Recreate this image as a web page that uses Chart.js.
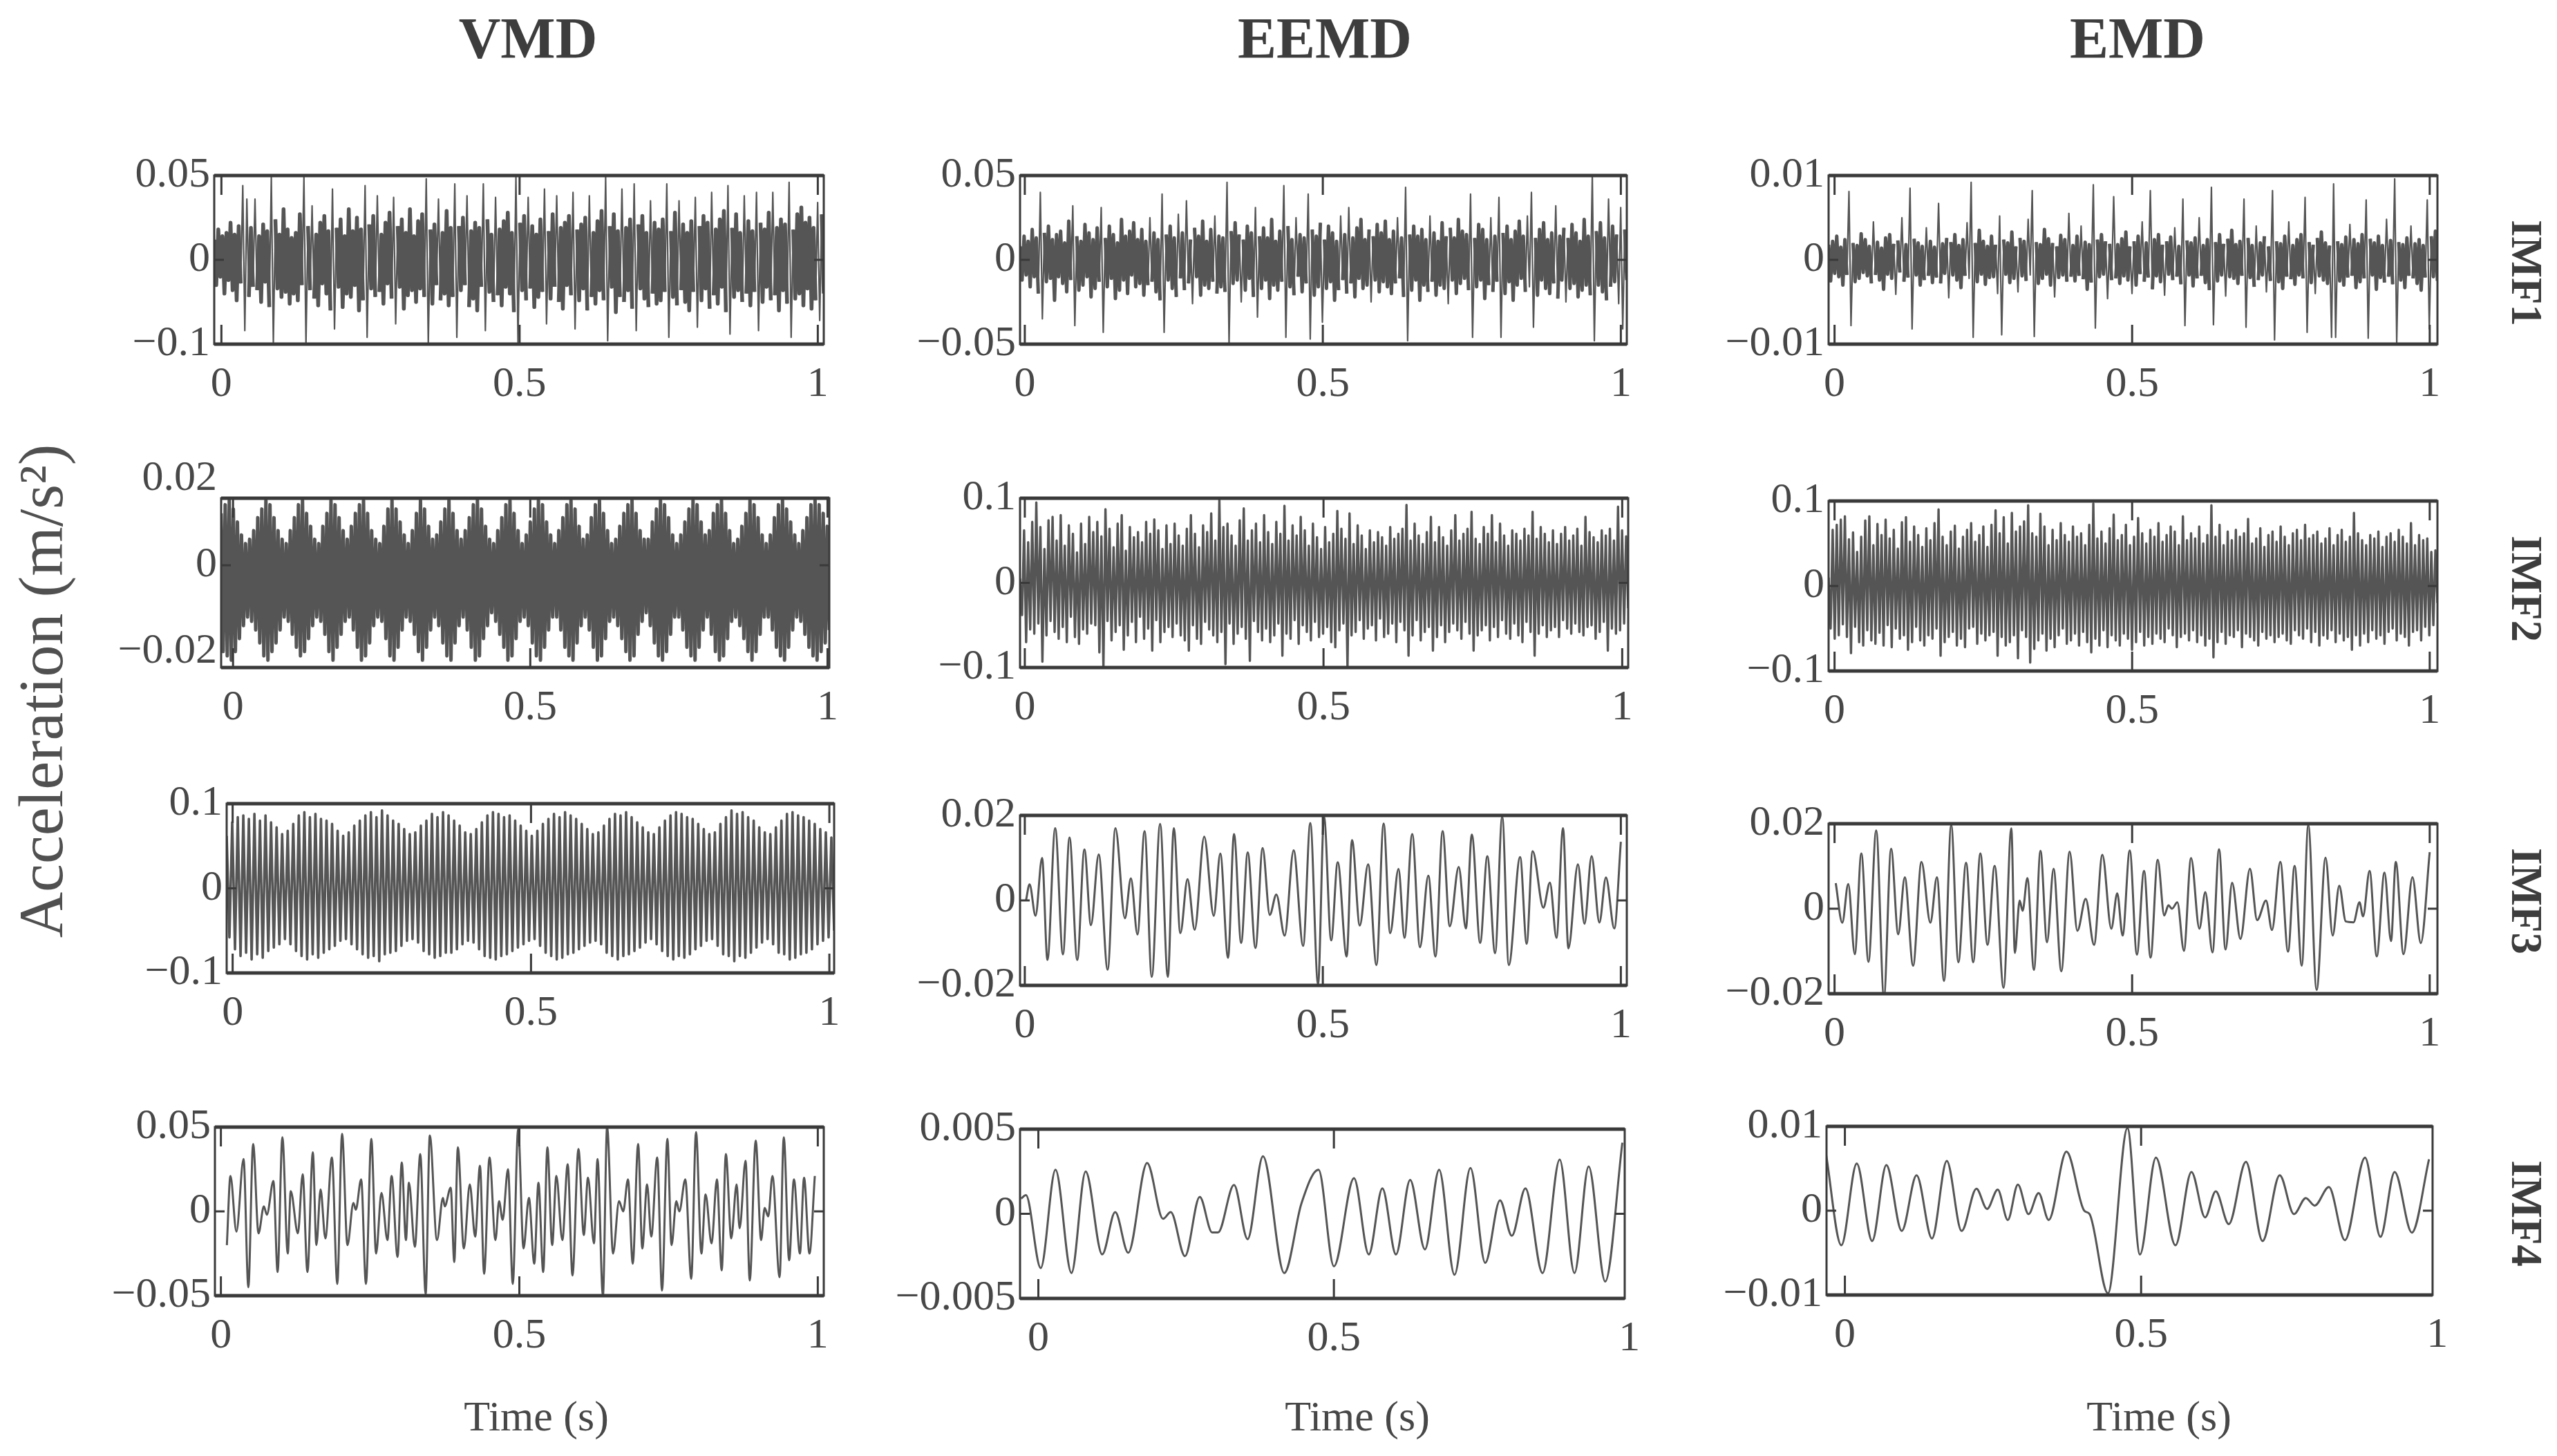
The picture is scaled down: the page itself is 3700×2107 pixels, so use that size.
<!DOCTYPE html>
<html>
<head>
<meta charset="utf-8">
<script src="https://cdn.jsdelivr.net/npm/chart.js@4.4.1/dist/chart.umd.min.js"></script>
<style>
    body { margin: 0; width: 3700px; height: 2107px; background: #fff; position: relative; overflow: hidden;
           font-family: "Liberation Serif", "Times New Roman", serif; color: #3d3d3d; }
    canvas { position: absolute; }
    .txt { position: absolute; white-space: nowrap; transform: translate(-50%, -50%); }
    .title { font-weight: bold; font-size: 84px; }
    .imf { font-weight: bold; font-size: 63px; transform: translate(-50%, -50%) rotate(90deg); }
    .ylab { font-size: 92px; color: #505050; transform: translate(-50%, -50%) rotate(-90deg); }
    .xlab { font-size: 62px; color: #474747; }
</style>
</head>
<body>

<div class="txt title" style="left:764px; top:55px">VMD</div>
<div class="txt title" style="left:1917px; top:55px">EEMD</div>
<div class="txt title" style="left:3093px; top:55px">EMD</div>

<div class="txt imf" style="left:3655px; top:395px">IMF1</div>
<div class="txt imf" style="left:3655px; top:852px">IMF2</div>
<div class="txt imf" style="left:3655px; top:1304px">IMF3</div>
<div class="txt imf" style="left:3655px; top:1756px">IMF4</div>

<div class="txt ylab" style="left:59px; top:1000px">Acceleration (m/s²)</div>

<div class="txt xlab" style="left:776px; top:2049px">Time (s)</div>
<div class="txt xlab" style="left:1964px; top:2049px">Time (s)</div>
<div class="txt xlab" style="left:3124px; top:2049px">Time (s)</div>

<script>
// x tick labels shared by every panel
const xTickValues = [0, 0.5, 1];
const xTickLabels = ['0', '0.5', '1'];

// ---- dense IMFs: evenly sampled values ----

// VMD IMF1, units 1e-3 m/s^2
const vmdImf1 = [
    12,-15,18,-10,14,-20,16,-12,22,-18,15,-24,20,-14,44,-42,36,-22,19,-16,
    36,-18,14,-25,21,-13,17,-28,49,-49,24,-17,15,-22,30,-19,18,-26,13,-20,
    16,-24,27,-15,49,-50,20,-18,32,-23,15,-27,22,-14,26,-20,17,-30,42,-41,
    19,-16,24,-28,14,-20,30,-22,17,-15,25,-30,18,-24,44,-46,21,-17,26,-22,
    38,-19,15,-26,22,-14,28,-23,37,-38,20,-16,24,-29,16,-21,30,-18,14,-25,
    23,-17,27,-22,48,-50,18,-26,21,-15,36,-24,16,-20,29,-27,19,-22,45,-46,
    20,-18,25,-15,38,-28,17,-23,22,-30,19,-16,45,-42,24,-19,15,-25,37,-21,
    18,-27,23,-16,28,-20,16,-31,49,-49,22,-18,26,-24,37,-17,20,-28,15,-22,
    24,-19,42,-38,17,-23,27,-16,38,-25,19,-29,22,-15,26,-21,40,-41,18,-24,
    21,-17,25,-30,38,-22,16,-26,23,-18,29,-24,49,-48,20,-16,27,-31,17,-22,
    42,-25,19,-18,24,-29,45,-42,21,-17,26,-23,16,-28,35,-20,22,-26,18,-24,
    24,-19,45,-46,17,-22,28,-27,35,-18,21,-25,16,-30,23,-19,37,-40,20,-24,
    26,-17,22,-29,40,-21,18,-26,24,-16,29,-31,44,-44,19,-22,27,-18,16,-25,
    38,-20,23,-27,17,-19,40,-42,22,-25,18,-16,28,-24,40,-21,19,-30,24,-18,
    21,-26,46,-46,18,-23,27,-20,31,-27,22,-17,25,-29,19,-24,34,-36,27,-20
];

// VMD IMF2, units 1e-3 m/s^2
const vmdImf2 = [
    12,-20,14,-21,15,-22,13,-20,10,-17,7,-14,5,-12,6,-13,8,-15,11,-18,
    13,-21,15,-22,14,-20,11,-18,8,-15,6,-12,5,-13,8,-16,11,-19,14,-21,
    15,-20,12,-17,9,-14,6,-12,5,-13,9,-16,12,-20,15,-22,14,-19,11,-16,
    8,-13,6,-12,9,-15,12,-19,14,-22,15,-21,12,-18,8,-14,6,-12,5,-13,
    9,-17,13,-21,15,-22,13,-19,10,-15,7,-12,5,-13,8,-16,12,-20,15,-22,
    13,-19,9,-15,6,-12,7,-14,10,-18,13,-21,15,-22,12,-18,8,-14,6,-12,
    8,-15,11,-19,14,-22,15,-21,13,-17,9,-14,6,-11,5,-13,8,-16,11,-19,
    14,-22,15,-21,12,-17,8,-13,5,-12,7,-14,10,-18,13,-21,15,-22,14,-19,
    10,-15,7,-12,5,-12,8,-15,11,-19,14,-21,15,-22,13,-18,9,-14,6,-12,
    7,-15,11,-19,14,-22,15,-21,12,-17,8,-13,5,-12,6,-14,9,-17,12,-20,
    14,-22,15,-21,12,-16,8,-13,6,-11,6,-14,10,-18,13,-21,15,-22,14,-20,
    11,-16,7,-12,5,-12,7,-15,10,-19,13,-21,15,-22,14,-19,10,-15,7,-12,
    8,-16,12,-20,14,-22,15,-21,12,-17,8,-13,5,-12,6,-14,9,-17,12,-20,
    15,-22,14,-20,11,-16,7,-12,5,-12,7,-15,11,-19,14,-21,15,-22,13,-19,
    10,-15,7,-12,5,-13,8,-16,11,-19,14,-21,15,-22,14,-20,12,-18,9,-15
];

// VMD IMF3, units 1e-3 m/s^2
const vmdImf3 = [
    62,-58,78,-72,84,-80,86,-76,82,-84,88,-78,80,-82,86,-74,78,-70,72,-66,
    64,-60,68,-66,76,-74,86,-80,90,-84,84,-78,88,-82,82,-76,80,-72,76,-68,
    68,-62,62,-60,66,-66,74,-72,80,-78,86,-82,90,-80,84,-86,92,-78,86,-76,
    80,-74,76,-68,70,-62,64,-60,66,-64,74,-74,80,-78,88,-82,84,-80,90,-76,
    86,-76,80,-72,74,-66,66,-62,64,-64,70,-72,78,-80,86,-82,90,-84,88,-80,
    84,-78,86,-74,80,-70,74,-66,68,-62,62,-60,68,-68,76,-76,82,-80,88,-84,
    84,-82,90,-78,86,-76,82,-72,76,-68,70,-64,64,-62,66,-66,74,-76,82,-80,
    88,-84,86,-80,90,-78,84,-74,78,-70,72,-64,66,-60,64,-66,72,-74,80,-80,
    86,-84,90,-80,88,-82,84,-78,82,-72,76,-68,70,-62,64,-60,66,-68,76,-78,
    84,-80,92,-86,88,-80,90,-82,84,-76,80,-70,72,-64,66,-60,64,-66,72,-76,
    80,-78,88,-84,90,-82,86,-78,84,-76,80,-72,76,-66,70,-62,66,-58,60,-50
];

// EEMD IMF1, units 1e-3 m/s^2
const eemdImf1 = [
    8,-12,14,-9,11,-16,18,-10,13,-20,40,-35,16,-13,20,-11,12,-24,15,-10,
    17,-14,10,-19,23,-12,32,-39,14,-18,11,-15,21,-10,16,-22,12,-17,19,-13,
    31,-43,13,-16,20,-11,15,-23,10,-18,24,-12,14,-20,17,-9,22,-16,12,-14,
    18,-21,11,-15,25,-13,16,-19,12,-24,39,-43,15,-12,20,-17,13,-22,27,-11,
    16,-18,35,-14,12,-26,19,-10,14,-21,23,-15,11,-17,18,-13,26,-20,14,-16,
    13,-19,46,-50,17,-14,22,-12,15,-25,12,-18,20,-11,16,-22,31,-34,14,-17,
    19,-12,13,-23,24,-15,11,-18,17,-13,44,-46,20,-16,12,-21,25,-10,15,-19,
    13,-14,39,-47,18,-21,14,-16,22,-37,12,-17,20,-13,16,-24,11,-18,26,-12,
    15,-20,31,-14,13,-22,19,-11,24,-17,12,-15,18,-25,14,-12,21,-19,16,-13,
    23,-16,12,-20,17,-14,25,-11,13,-22,43,-48,15,-18,20,-12,14,-24,18,-15,
    12,-19,26,-13,16,-21,11,-15,22,-17,14,-26,19,-12,13,-20,24,-14,17,-11,
    15,-18,39,-46,13,-16,21,-12,18,-23,12,-15,25,-19,14,-13,37,-46,16,-20,
    20,-13,12,-24,17,-15,23,-11,14,-19,26,-16,40,-40,13,-21,18,-12,22,-17,
    12,-20,16,-14,32,-23,14,-12,19,-25,13,-17,21,-14,16,-22,11,-18,24,-15,
    14,-21,50,-48,17,-15,22,-19,13,-24,36,-16,20,-13,15,-26,31,-41,18,-12
];

// EEMD IMF2, units 1e-3 m/s^2
const eemdImf2 = [
    5,-38,62,-70,48,-55,72,-60,95,-48,66,-93,40,-62,74,-45,78,-58,50,-66,
    80,-52,44,-70,68,-40,58,-64,36,-72,70,-55,46,-60,78,-48,60,-50,72,-82,
    55,-100,87,-45,64,-68,42,-58,70,-50,80,-79,38,-62,66,-46,54,-70,60,-40,
    48,-66,72,-54,58,-80,75,-44,62,-70,40,-58,68,-52,46,-64,70,-48,56,-62,
    44,-68,64,-80,80,-50,58,-66,42,-72,68,-46,60,-55,82,-62,50,-70,98,-58,
    66,-96,70,-48,56,-72,44,-60,74,-52,88,-66,50,-92,62,-45,70,-58,48,-68,
    80,-54,60,-70,46,-62,72,-48,58,-86,91,-60,50,-66,68,-44,56,-72,78,-50,
    62,-58,44,-68,70,-46,54,-64,40,-60,66,-52,48,-70,58,-76,85,-56,64,-48,
    52,-100,82,-62,46,-58,68,-44,56,-66,40,-54,62,-50,48,-68,60,-42,54,-64,
    44,-60,66,-48,52,-70,58,-46,64,-56,92,-86,50,-62,70,-44,56,-68,46,-58,
    60,-52,78,-80,48,-64,66,-50,54,-70,44,-58,62,-48,80,-56,50,-66,58,-46,
    64,-60,84,-80,52,-62,46,-56,66,-50,58,-68,80,-52,48,-64,70,-44,56,-60,
    44,-66,62,-48,58,-62,50,-70,64,-46,56,-58,84,-86,52,-60,66,-50,58,-64,
    48,-56,62,-52,46,-64,58,-44,66,-54,50,-60,56,-48,64,-58,44,-62,78,-52,
    60,-50,54,-66,48,-58,62,-46,56,-80,64,-54,50,-60,90,-56,62,-48,55,-30
];

// EMD IMF1, units 1e-4 m/s^2
const emdImf1 = [
    18,-25,22,-16,28,-20,15,-30,24,-18,81,-78,20,-26,17,-22,31,-15,24,-19,
    16,-28,45,-18,21,-24,14,-35,26,-17,30,-22,19,-41,23,-15,50,-26,18,-21,
    85,-82,25,-18,20,-30,16,-24,38,-19,22,-27,15,-21,67,-28,19,-16,26,-45,
    21,-18,30,-24,17,-33,24,-19,44,-22,92,-92,20,-26,35,-17,22,-29,16,-21,
    28,-20,18,-40,52,-89,24,-17,20,-27,33,-22,16,-38,26,-19,22,-25,48,-18,
    82,-91,21,-28,18,-22,36,-17,25,-30,20,-44,16,-21,29,-18,24,-26,55,-20,
    17,-25,28,-19,40,-23,21,-35,18,-27,89,-81,24,-20,30,-17,22,-46,19,-24,
    75,-22,18,-28,25,-19,33,-24,16,-40,22,-30,28,-17,45,-26,20,-21,82,-35,
    24,-19,30,-26,18,-42,22,-17,27,-24,38,-20,16,-29,72,-78,23,-18,20,-31,
    26,-22,50,-19,17,-27,24,-36,86,-77,21,-25,30,-18,19,-43,25,-20,35,-22,
    18,-28,22,-19,72,-80,26,-21,17,-32,40,-24,20,-18,28,-38,16,-25,82,-95,
    22,-26,19,-34,28,-20,45,-23,17,-29,24,-18,30,-22,74,-86,21,-27,18,-40,
    26,-19,33,-24,20,-28,17,-92,90,-92,22,-25,18,-30,27,-21,42,-19,24,-33,
    19,-26,30,-22,71,-93,25,-18,20,-35,28,-21,17,-27,48,-20,23,-29,96,-98,
    21,-24,18,-33,26,-19,40,-22,19,-28,24,-36,17,-21,71,-82,28,-20,34,-25
];

// EMD IMF2, units 1e-3 m/s^2
const emdImf2 = [
    10,-50,66,-62,72,-58,78,-45,82,-60,55,-79,63,-48,40,-66,58,-70,77,-52,
    82,-64,48,-68,73,-55,60,-70,78,-46,56,-72,66,-50,44,-62,75,-58,81,-75,
    52,-66,70,-48,60,-64,46,-70,68,-58,54,-62,74,-50,90,-82,58,-66,48,-60,
    64,-54,71,-70,44,-62,58,-72,66,-50,74,-48,52,-68,60,-56,70,-64,46,-58,
    72,-54,89,-82,62,-60,81,-70,50,-66,86,-58,64,-85,70,-52,76,-60,95,-90,
    62,-74,58,-64,85,-56,70,-76,48,-62,66,-72,54,-58,74,-50,60,-68,52,-64,
    70,-56,58,-70,62,-54,48,-66,72,-78,97,-62,56,-70,64,-52,50,-72,68,-58,
    84,-64,54,-70,60,-56,72,-62,48,-75,58,-66,80,-54,62,-70,50,-60,66,-68,
    58,-56,74,-62,52,-66,60,-50,70,-58,64,-72,48,-60,82,-56,54,-64,62,-52,
    56,-66,70,-58,50,-70,60,-62,95,-84,58,-66,72,-54,48,-68,64,-58,54,-60,
    66,-52,58,-72,62,-56,79,-60,50,-64,56,-70,68,-54,46,-62,60,-58,64,-66,
    52,-60,70,-56,58,-64,48,-68,62,-52,66,-58,54,-62,72,-50,56,-66,60,-54,
    64,-70,50,-58,56,-62,68,-52,48,-66,60,-56,66,-64,52,-60,58,-75,86,-58,
    62,-70,54,-56,48,-66,60,-52,56,-62,64,-58,46,-68,58,-54,62,-50,52,-64,
    66,-56,58,-60,50,-70,74,-54,48,-52,60,-64,54,-48,56,-58,40,-46,42,-20
];

// ---- smooth IMFs: [time in ms, value] at the peaks and troughs ----

// VMD IMF4, units 1e-3 m/s^2
const vmdImf4 = [
    [10,-20],[16,21],[26,-12],[38,31],[46,-45],[54,40],[63,-13],[72,3],[77,-2],[88,18],
    [95,-36],[103,44],[112,-25],[117,12],[129,-13],[137,22],[145,-36],[154,35],[160,-20],[167,13],
    [175,-16],[186,32],[195,-43],[203,46],[212,-20],[222,5],[226,1],[235,19],[243,-43],[252,43],
    [260,-25],[269,11],[279,-17],[286,21],[296,-27],[303,29],[310,-17],[315,17],[325,-21],[334,34],
    [343,-49],[350,45],[362,-17],[372,8],[375,3],[385,14],[391,-30],[397,38],[407,-22],[417,16],
    [426,-15],[434,27],[441,-37],[450,32],[460,-17],[466,6],[472,-5],[481,25],[489,-43],[498,49],
    [507,-22],[516,8],[525,-31],[532,17],[540,-36],[547,38],[555,-20],[562,21],[572,-17],[581,28],
    [589,-38],[599,37],[608,-14],[615,20],[625,-19],[631,31],[640,-50],[647,50],[657,-25],[667,6],
    [674,0],[682,19],[690,-31],[699,40],[706,-22],[714,16],[721,-15],[731,32],[739,-47],[748,43],
    [755,-20],[763,6],[768,0],[778,19],[788,-40],[796,47],[805,-25],[812,10],[822,-19],[831,19],
    [839,-35],[846,34],[855,-16],[864,16],[869,-10],[879,30],[886,-41],[896,42],[905,-17],[911,2],
    [917,-3],[924,21],[936,-39],[943,44],[952,-29],[960,19],[970,-25],[977,20],[986,-25],[995,21]
];

// EEMD IMF3, units 1e-4 m/s^2
const eemdImf3 = [
    [2,0],[8,38],[18,-36],[29,100],[38,-140],[51,170],[64,-127],[75,148],[88,-140],[100,120],
    [111,-58],[124,108],[139,-163],[152,170],[168,-42],[178,52],[189,-80],[201,163],[213,-180],[227,180],
    [240,-180],[250,170],[261,-77],[273,50],[285,-69],[301,150],[317,-36],[328,110],[341,-135],[351,156],
    [363,-100],[374,113],[387,-112],[399,123],[411,-34],[422,14],[436,-83],[451,118],[467,-107],[479,182],
    [492,-198],[502,197],[514,-94],[525,90],[540,-132],[549,142],[562,-59],[576,85],[590,-152],[602,181],
    [613,-77],[627,74],[637,-88],[650,156],[663,-110],[677,58],[689,-132],[701,163],[713,-61],[728,79],
    [740,-66],[750,155],[764,-100],[776,104],[789,-124],[801,197],[812,-152],[831,102],[842,-102],[852,116],
    [870,-17],[881,42],[892,-88],[903,170],[912,-113],[928,85],[939,-55],[951,104],[964,-52],[975,54],
    [989,-66],[1000,138]
];

// EEMD IMF4, units 1e-4 m/s^2
const eemdImf4 = [
    [-29,9],[-21,11],[4,-32],[29,26],[56,-35],[80,25],[108,-24],[130,1],[152,-23],[184,30],
    [211,-3],[224,1],[248,-25],[273,10],[294,-11],[304,-11],[331,17],[354,-15],[380,34],[416,-35],
    [445,6],[474,26],[500,-31],[534,21],[559,-24],[582,15],[605,-24],[629,20],[654,-21],[678,26],
    [704,-36],[731,27],[756,-29],[781,8],[801,-13],[824,15],[853,-35],[882,32],[907,-35],[931,28],
    [959,-40],[988,42]
];

// EMD IMF3, units 1e-4 m/s^2
const emdImf3 = [
    [2,60],[13,-33],[23,58],[34,-107],[45,130],[57,-125],[70,184],[83,-207],[95,141],[107,-60],
    [118,74],[132,-134],[146,110],[161,-33],[172,74],[184,-170],[196,197],[208,-126],[221,108],[233,-126],
    [245,130],[257,-85],[269,101],[284,-186],[297,189],[303,-104],[311,19],[316,-5],[324,72],[335,-144],
    [346,136],[357,-79],[368,94],[381,-147],[395,134],[408,-52],[422,23],[436,-85],[450,127],[465,-47],
    [475,36],[484,-63],[496,137],[508,-108],[520,89],[531,-115],[543,115],[554,-16],[561,8],[567,0],
    [576,15],[587,-99],[599,119],[613,-47],[623,39],[635,-103],[646,140],[657,-96],[668,61],[682,-71],
    [698,94],[710,-27],[725,19],[735,-50],[749,110],[762,-101],[773,101],[785,-134],[796,197],[810,-191],
    [825,120],[837,-63],[848,54],[859,-30],[872,-32],[882,15],[888,-18],[899,89],[911,-112],[924,85],
    [935,-76],[943,110],[956,-107],[971,74],[985,-81],[1000,133]
];

// EMD IMF4, units 1e-4 m/s^2
const emdImf4 = [
    [-32,68],[-6,-41],[20,56],[46,-36],[70,54],[96,-24],[121,42],[147,-33],[172,59],[197,-24],
    [222,26],[240,2],[258,25],[275,-11],[292,31],[310,-4],[327,21],[344,-11],[374,70],[404,0],
    [413,-4],[444,-98],[477,98],[498,-52],[525,63],[558,-41],[585,46],[608,-8],[626,23],[648,-16],
    [677,58],[705,-36],[734,42],[758,-4],[778,15],[793,6],[817,28],[844,-35],[878,63],[904,-31],
    [928,46],[957,-26],[986,61]
];

// y tick labels, bottom / middle / top
const vmdImf1Ticks  = ['\u22120.1', '0', '0.05'];
const vmdImf2Ticks  = ['\u22120.02', '0', '0.02'];
const vmdImf3Ticks  = ['\u22120.1', '0', '0.1'];
const vmdImf4Ticks  = ['\u22120.05', '0', '0.05'];
const eemdImf1Ticks = ['\u22120.05', '0', '0.05'];
const eemdImf2Ticks = ['\u22120.1', '0', '0.1'];
const eemdImf3Ticks = ['\u22120.02', '0', '0.02'];
const eemdImf4Ticks = ['\u22120.005', '0', '0.005'];
const emdImf1Ticks  = ['\u22120.01', '0', '0.01'];
const emdImf2Ticks  = ['\u22120.1', '0', '0.1'];
const emdImf3Ticks  = ['\u22120.02', '0', '0.02'];
const emdImf4Ticks  = ['\u22120.01', '0', '0.01'];

// box = [left, top, right, bottom] in page pixels
// lw = line width, core = below this size the dense band is drawn with the thick coreLw
const panels = [
    { data: vmdImf1, dense: true, lw: 2.2, core: 31, coreLw: 5.5, box: [310, 254, 1192, 498], x: [-0.012, 1.01], y: [-50, 50], yt: [-50, 0, 50], labels: vmdImf1Ticks },
    { data: vmdImf2, dense: true, lw: 5, box: [320, 721, 1200, 966], x: [-0.02, 1.003], y: [-23.7, 15.5], yt: [-20, 0, 20], labels: vmdImf2Ticks },
    { data: vmdImf3, dense: true, lw: 3.6, box: [328, 1163, 1207, 1408], x: [-0.01, 1.008], y: [-100, 100], yt: [-100, 0, 100], labels: vmdImf3Ticks },
    { data: vmdImf4, dense: false, lw: 3, box: [311, 1631, 1192, 1875], x: [-0.01, 1.01], y: [-50, 50], yt: [-50, 0, 50], labels: vmdImf4Ticks },

    { data: eemdImf1, dense: true, lw: 2.2, core: 24, coreLw: 5, box: [1476, 254, 2354, 498], x: [-0.008, 1.01], y: [-50, 50], yt: [-50, 0, 50], labels: eemdImf1Ticks },
    { data: eemdImf2, dense: true, lw: 3.4, box: [1476, 721, 2356, 966], x: [-0.008, 1.01], y: [-100, 100], yt: [-100, 0, 100], labels: eemdImf2Ticks },
    { data: eemdImf3, dense: false, lw: 3, box: [1476, 1180, 2354, 1426], x: [-0.008, 1.01], y: [-200, 200], yt: [-200, 0, 200], labels: eemdImf3Ticks },
    { data: eemdImf4, dense: false, lw: 3, box: [1476, 1634, 2355, 1879], x: [-0.031, 0.992], y: [-50, 50], yt: [-50, 0, 50], labels: eemdImf4Ticks },

    { data: emdImf1, dense: true, lw: 2.2, core: 36, coreLw: 5, box: [2646, 254, 3527, 498], x: [-0.01, 1.013], y: [-100, 100], yt: [-100, 0, 100], labels: emdImf1Ticks },
    { data: emdImf2, dense: true, lw: 3.4, box: [2646, 725, 3527, 971], x: [-0.01, 1.013], y: [-100, 100], yt: [-100, 0, 100], labels: emdImf2Ticks },
    { data: emdImf3, dense: false, lw: 3, box: [2646, 1192, 3527, 1438], x: [-0.01, 1.013], y: [-200, 200], yt: [-200, 0, 200], labels: emdImf3Ticks },
    { data: emdImf4, dense: false, lw: 3, box: [2643, 1630, 3524, 1874], x: [-0.031, 0.992], y: [-100, 100], yt: [-100, 0, 100], labels: emdImf4Ticks }
];

const AXIS_W = 200, AXIS_H = 110, PAD_TOP = 60, PAD_RIGHT = 40;
const tickFont = { family: "'Liberation Serif', 'Times New Roman', serif", size: 62 };
const lineColor = '#555555';
const frameColor = '#3a3a3a';

// box round the plot area with inward ticks
const framePlugin = {
    id: 'frame',
    afterDatasetsDraw(chart) {
        const { ctx, chartArea: a, scales: { x, y } } = chart;
        ctx.save();
        ctx.strokeStyle = frameColor;
        ctx.lineWidth = 3;
        ctx.strokeRect(a.left, a.top, a.right - a.left, a.bottom - a.top);
        ctx.lineWidth = 5;
        ctx.beginPath();
        ctx.moveTo(a.left, a.top); ctx.lineTo(a.right, a.top);
        ctx.moveTo(a.left, a.bottom); ctx.lineTo(a.right, a.bottom);
        ctx.stroke();
        ctx.lineWidth = 3;
        ctx.beginPath();
        xTickValues.forEach(v => {
            const px = x.getPixelForValue(v);
            if (px < a.left || px > a.right) return;
            ctx.moveTo(px, a.top); ctx.lineTo(px, a.top + 28);
            ctx.moveTo(px, a.bottom); ctx.lineTo(px, a.bottom - 28);
        });
        const py = y.getPixelForValue(0);
        ctx.moveTo(a.left, py); ctx.lineTo(a.left + 14, py);
        ctx.moveTo(a.right, py); ctx.lineTo(a.right - 14, py);
        ctx.stroke();
        ctx.restore();
    }
};

panels.forEach(p => {
    const [l, t, r, b] = p.box;
    const canvas = document.createElement('canvas');
    const w = r - l + AXIS_W + PAD_RIGHT;
    const h = b - t + PAD_TOP + AXIS_H;
    canvas.width = w;
    canvas.height = h;
    canvas.style.left = (l - AXIS_W) + 'px';
    canvas.style.top = (t - PAD_TOP) + 'px';
    canvas.style.width = w + 'px';
    canvas.style.height = h + 'px';
    document.body.appendChild(canvas);

    let points;
    if (p.dense) {
        // evenly sampled over the drawn time range
        const n = p.data.length;
        points = p.data.map((v, i) => ({ x: p.x[0] + (p.x[1] - p.x[0]) * i / (n - 1), y: v }));
    } else {
        points = p.data.map(d => ({ x: d[0] / 1000, y: d[1] }));
    }

    const dataset = {
        data: points,
        borderColor: lineColor,
        borderWidth: p.lw,
        borderJoinStyle: 'round',
        pointRadius: 0,
        fill: false,
        tension: 0,
        cubicInterpolationMode: p.dense ? 'default' : 'monotone'
    };
    if (p.core) {
        // thick strokes for the solid band, thin ones for the spikes
        dataset.segment = {
            borderWidth: c => Math.max(Math.abs(c.p0.parsed.y), Math.abs(c.p1.parsed.y)) > p.core ? p.lw : p.coreLw
        };
    }

    new Chart(canvas.getContext('2d'), {
        type: 'line',
        data: { datasets: [dataset] },
        options: {
            responsive: false,
            animation: false,
            devicePixelRatio: 1,
            events: [],
            layout: { padding: { top: PAD_TOP, right: PAD_RIGHT, left: 0, bottom: 0 } },
            plugins: { legend: { display: false }, tooltip: { enabled: false } },
            scales: {
                x: {
                    type: 'linear',
                    min: p.x[0],
                    max: p.x[1],
                    grid: { display: false, drawTicks: false },
                    border: { display: false },
                    afterBuildTicks: ax => { ax.ticks = xTickValues.map(v => ({ value: v })); },
                    afterFit: ax => { ax.height = AXIS_H; },
                    ticks: {
                        font: tickFont,
                        color: '#474747',
                        padding: 22,
                        maxRotation: 0,
                        autoSkip: false,
                        callback: (v, i) => xTickLabels[i]
                    }
                },
                y: {
                    type: 'linear',
                    min: p.y[0],
                    max: p.y[1],
                    grid: { display: false, drawTicks: false },
                    border: { display: false },
                    afterBuildTicks: ax => { ax.ticks = p.yt.map(v => ({ value: v })); },
                    afterFit: ax => { ax.width = AXIS_W; },
                    ticks: {
                        font: tickFont,
                        color: '#474747',
                        padding: 6,
                        autoSkip: false,
                        callback: (v, i) => p.labels[i]
                    }
                }
            }
        },
        plugins: [framePlugin]
    });
});
</script>
</body>
</html>
